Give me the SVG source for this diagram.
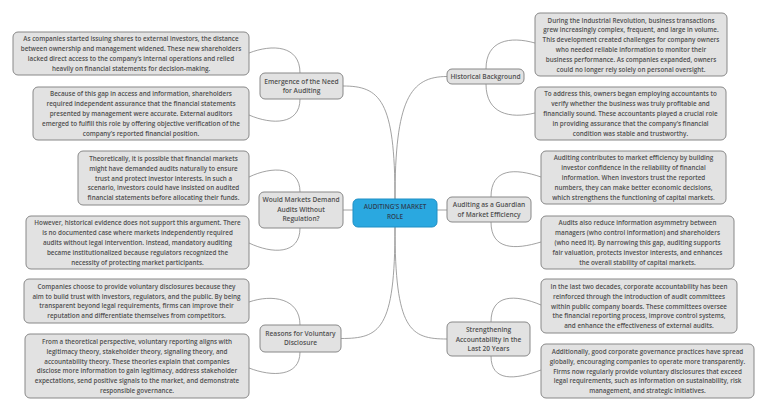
<svg xmlns="http://www.w3.org/2000/svg" width="768" height="411" viewBox="0 0 768 411">
<style>
.box{fill:#e2e2e2;stroke:#888888;stroke-width:1}
.root{fill:#2aa8e0;stroke:#1f8fc4;stroke-width:1}
.t{font-family:"Open Sans","DejaVu Sans",sans-serif;font-weight:600;font-size:6.3px;fill:#505050;text-anchor:middle}
.n{font-size:6.6px}
.rt{font-family:"Open Sans","DejaVu Sans",sans-serif;font-weight:600;font-size:6.4px;fill:#2d3f55;text-anchor:middle}
.c{fill:none;stroke:#8a8a8a;stroke-width:0.8}
</style>
<rect width="768" height="411" fill="#ffffff"/>
<g id="connectors">
<path class="c" d="M395,199 C395,100 410,76.5 447,76.5"/>
<path class="c" d="M395,199 C395,100 380,86 343,86"/>
<path class="c" d="M343,210 L353,210"/>
<path class="c" d="M437,210 L447,210"/>
<path class="c" d="M395,227 C395,330 380,338.5 341,338.5"/>
<path class="c" d="M395,227 C395,330 410,339 447,339"/>
<path class="c" d="M300,73 C300,45 272,44 249,53"/>
<path class="c" d="M300,99 C300,125 272,125 249,115"/>
<path class="c" d="M300,192 C300,166 272,166 249,177"/>
<path class="c" d="M300,228 C300,255 272,254 249,243"/>
<path class="c" d="M300,325 C300,298 272,294 249,302"/>
<path class="c" d="M300,352 C300,377 272,377 249,368"/>
<path class="c" d="M486,69 C486,40 510,36 535,43"/>
<path class="c" d="M486,84 C486,114 510,119 535,113"/>
<path class="c" d="M491,197 C491,168 515,168 541,177"/>
<path class="c" d="M491,222 C491,250 515,250 541,242"/>
<path class="c" d="M491,322 C491,294 515,294 541,305"/>
<path class="c" d="M491,356 C491,382 515,380 541,370"/>
</g>
<g id="root">
<rect class="root" x="353" y="199" width="84" height="28" rx="5"/>
<text class="rt" x="395" y="209">AUDITING’S MARKET</text>
<text class="rt" x="395" y="219">ROLE</text>
</g>
<g id="n-emergence">
<rect class="box" x="260" y="73" width="83" height="26" rx="5"/>
<text class="t n" x="301.5" y="83.6">Emergence of the Need</text>
<text class="t n" x="301.5" y="93.4">for Auditing</text>
</g>
<g id="n-would">
<rect class="box" x="259" y="192" width="84" height="36" rx="5"/>
<text class="t n" x="301" y="202.3">Would Markets Demand</text>
<text class="t n" x="301" y="211.6">Audits Without</text>
<text class="t n" x="301" y="220.9">Regulation?</text>
</g>
<g id="n-reasons">
<rect class="box" x="260" y="325" width="81" height="27" rx="5"/>
<text class="t n" x="300.5" y="335.6">Reasons for Voluntary</text>
<text class="t n" x="300.5" y="345.4">Disclosure</text>
</g>
<g id="n-historical">
<rect class="box" x="447" y="69" width="77" height="15" rx="5"/>
<text class="t n" x="485.5" y="79">Historical Background</text>
</g>
<g id="n-guardian">
<rect class="box" x="447" y="197" width="84" height="25" rx="5"/>
<text class="t n" x="489" y="206.8">Auditing as a Guardian</text>
<text class="t n" x="489" y="216.6">of Market Efficiency</text>
</g>
<g id="n-strengthening">
<rect class="box" x="447" y="322" width="83" height="34" rx="5"/>
<text class="t n" x="488.5" y="331.7">Strengthening</text>
<text class="t n" x="488.5" y="341.5">Accountability in the</text>
<text class="t n" x="488.5" y="351.3">Last 20 Years</text>
</g>
<g id="leaf-1">
<rect class="box" x="13" y="32" width="236" height="43" rx="5"/>
<text class="t" x="131" y="41.3">As companies started issuing shares to external investors, the distance</text>
<text class="t" x="131" y="51.1">between ownership and management widened. These new shareholders</text>
<text class="t" x="131" y="60.9">lacked direct access to the company’s internal operations and relied</text>
<text class="t" x="131" y="70.7">heavily on financial statements for decision-making.</text>
</g>
<g id="leaf-2">
<rect class="box" x="33" y="87" width="216" height="53" rx="5"/>
<text class="t" x="141" y="96.4">Because of this gap in access and information, shareholders</text>
<text class="t" x="141" y="106.2">required independent assurance that the financial statements</text>
<text class="t" x="141" y="116">presented by management were accurate. External auditors</text>
<text class="t" x="141" y="125.8">emerged to fulfill this role by offering objective verification of the</text>
<text class="t" x="141" y="135.6">company’s reported financial position.</text>
</g>
<g id="leaf-3">
<rect class="box" x="78" y="151" width="171" height="54" rx="5"/>
<text class="t" x="163.5" y="160.9">Theoretically, it is possible that financial markets</text>
<text class="t" x="163.5" y="170.7">might have demanded audits naturally to ensure</text>
<text class="t" x="163.5" y="180.5">trust and protect investor interests. In such a</text>
<text class="t" x="163.5" y="190.3">scenario, investors could have insisted on audited</text>
<text class="t" x="163.5" y="200.1">financial statements before allocating their funds.</text>
</g>
<g id="leaf-4">
<rect class="box" x="26" y="216" width="223" height="53" rx="5"/>
<text class="t" x="137.5" y="225.4">However, historical evidence does not support this argument. There</text>
<text class="t" x="137.5" y="235.2">is no documented case where markets independently required</text>
<text class="t" x="137.5" y="245">audits without legal intervention. Instead, mandatory auditing</text>
<text class="t" x="137.5" y="254.8">became institutionalized because regulators recognized the</text>
<text class="t" x="137.5" y="264.6">necessity of protecting market participants.</text>
</g>
<g id="leaf-5">
<rect class="box" x="24" y="279" width="225" height="44" rx="5"/>
<text class="t" x="136.5" y="288.8">Companies choose to provide voluntary disclosures because they</text>
<text class="t" x="136.5" y="298.6">aim to build trust with investors, regulators, and the public. By being</text>
<text class="t" x="136.5" y="308.4">transparent beyond legal requirements, firms can improve their</text>
<text class="t" x="136.5" y="318.2">reputation and differentiate themselves from competitors.</text>
</g>
<g id="leaf-6">
<rect class="box" x="25" y="334" width="224" height="64" rx="5"/>
<text class="t" x="137" y="344">From a theoretical perspective, voluntary reporting aligns with</text>
<text class="t" x="137" y="353.8">legitimacy theory, stakeholder theory, signaling theory, and</text>
<text class="t" x="137" y="363.6">accountability theory. These theories explain that companies</text>
<text class="t" x="137" y="373.4">disclose more information to gain legitimacy, address stakeholder</text>
<text class="t" x="137" y="383.2">expectations, send positive signals to the market, and demonstrate</text>
<text class="t" x="137" y="393">responsible governance.</text>
</g>
<g id="leaf-7">
<rect class="box" x="535" y="13" width="192" height="63" rx="5"/>
<text class="t" x="631" y="22.5">During the Industrial Revolution, business transactions</text>
<text class="t" x="631" y="32.3">grew increasingly complex, frequent, and large in volume.</text>
<text class="t" x="631" y="42.1">This development created challenges for company owners</text>
<text class="t" x="631" y="51.9">who needed reliable information to monitor their</text>
<text class="t" x="631" y="61.7">business performance. As companies expanded, owners</text>
<text class="t" x="631" y="71.5">could no longer rely solely on personal oversight.</text>
</g>
<g id="leaf-8">
<rect class="box" x="535" y="87" width="191" height="53" rx="5"/>
<text class="t" x="630.5" y="96.4">To address this, owners began employing accountants to</text>
<text class="t" x="630.5" y="106.2">verify whether the business was truly profitable and</text>
<text class="t" x="630.5" y="116">financially sound. These accountants played a crucial role</text>
<text class="t" x="630.5" y="125.8">in providing assurance that the company’s financial</text>
<text class="t" x="630.5" y="135.6">condition was stable and trustworthy.</text>
</g>
<g id="leaf-9">
<rect class="box" x="541" y="151" width="185" height="53" rx="5"/>
<text class="t" x="633.5" y="160.4">Auditing contributes to market efficiency by building</text>
<text class="t" x="633.5" y="170.2">investor confidence in the reliability of financial</text>
<text class="t" x="633.5" y="180">information. When investors trust the reported</text>
<text class="t" x="633.5" y="189.8">numbers, they can make better economic decisions,</text>
<text class="t" x="633.5" y="199.6">which strengthens the functioning of capital markets.</text>
</g>
<g id="leaf-10">
<rect class="box" x="541" y="216" width="193" height="53" rx="5"/>
<text class="t" x="637.5" y="225.4">Audits also reduce information asymmetry between</text>
<text class="t" x="637.5" y="235.2">managers (who control information) and shareholders</text>
<text class="t" x="637.5" y="245">(who need it). By narrowing this gap, auditing supports</text>
<text class="t" x="637.5" y="254.8">fair valuation, protects investor interests, and enhances</text>
<text class="t" x="637.5" y="264.6">the overall stability of capital markets.</text>
</g>
<g id="leaf-11">
<rect class="box" x="541" y="279" width="196" height="54" rx="5"/>
<text class="t" x="639" y="288.9">In the last two decades, corporate accountability has been</text>
<text class="t" x="639" y="298.7">reinforced through the introduction of audit committees</text>
<text class="t" x="639" y="308.5">within public company boards. These committees oversee</text>
<text class="t" x="639" y="318.3">the financial reporting process, improve control systems,</text>
<text class="t" x="639" y="328.1">and enhance the effectiveness of external audits.</text>
</g>
<g id="leaf-12">
<rect class="box" x="541" y="344" width="213" height="54" rx="5"/>
<text class="t" x="647.5" y="353.9">Additionally, good corporate governance practices have spread</text>
<text class="t" x="647.5" y="363.7">globally, encouraging companies to operate more transparently.</text>
<text class="t" x="647.5" y="373.5">Firms now regularly provide voluntary disclosures that exceed</text>
<text class="t" x="647.5" y="383.3">legal requirements, such as information on sustainability, risk</text>
<text class="t" x="647.5" y="393.1">management, and strategic initiatives.</text>
</g>
</svg>
